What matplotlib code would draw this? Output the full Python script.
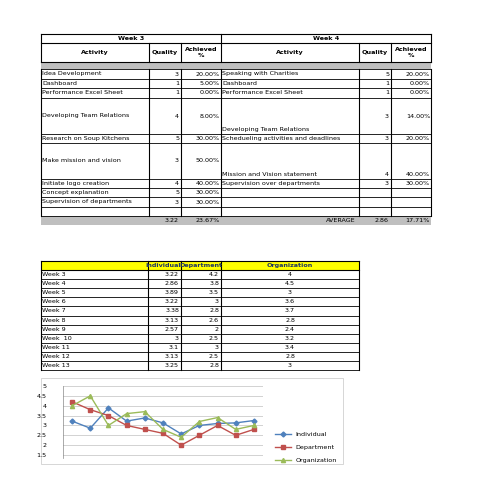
import matplotlib.pyplot as plt
from matplotlib.patches import Rectangle

# week 3 / week 4 activity tables
w3_activity = ["Idea Development", "Dashboard", "Performance Excel Sheet", "Developing Team Relations",
               "Research on Soup Kitchens", "Make mission and vision", "Initiate logo creation",
               "Concept explanation", "Supervision of departments", ""]
w3_quality = ["3", "1", "1", "4", "5", "3", "4", "5", "3", ""]
w3_achieved = ["20.00%", "5.00%", "0.00%", "8.00%", "30.00%", "50.00%", "40.00%", "30.00%", "30.00%", ""]
w4_activity = ["Speaking with Charities", "Dashboard", "Performance Excel Sheet", "Developing Team Relations",
               "Schedueling activities and deadlines", "Mission and Vision statement",
               "Supervision over departments", "", "", ""]
w4_quality = ["5", "1", "1", "3", "3", "4", "3", "", "", ""]
w4_achieved = ["20.00%", "0.00%", "0.00%", "14.00%", "20.00%", "40.00%", "30.00%", "", "", ""]
avg3 = ("3.22", "23.67%")
avg4 = ("2.86", "17.71%")

# summary table
weeks = ["Week 3", "Week 4", "Week 5", "Week 6", "Week 7", "Week 8", "Week 9",
         "Week  10", "Week 11", "Week 12", "Week 13"]
individual = [3.22, 2.86, 3.89, 3.22, 3.38, 3.13, 2.57, 3, 3.1, 3.13, 3.25]
department = [4.2, 3.8, 3.5, 3, 2.8, 2.6, 2, 2.5, 3, 2.5, 2.8]
organization = [4, 4.5, 3, 3.6, 3.7, 2.8, 2.4, 3.2, 3.4, 2.8, 3]

fig = plt.figure(figsize=(4.95, 4.95), dpi=100)
ax = fig.add_axes([0, 0, 1, 1])
ax.set_xlim(0, 495)
ax.set_ylim(495, 0)
ax.axis("off")

FS = 4.6
GRAY = "#bfbfbf"

def hline(y, x0, x1, lw=0.8):
    ax.plot([x0, x1], [y, y], color="black", lw=lw)

def vline(x, y0, y1, lw=0.8):
    ax.plot([x, x], [y0, y1], color="black", lw=lw)

# ---- top table ----
cols = [41, 149, 181, 221, 359, 391, 431]
rows = [69, 79, 88, 98, 134, 143, 179, 188, 197, 207, 216]
ax.add_patch(Rectangle((41, 62), 390, 7, color=GRAY, lw=0))
ax.add_patch(Rectangle((41, 216), 390, 9, color=GRAY, lw=0))
hline(34, 41, 431); hline(43, 41, 431); hline(62, 41, 431)
for y in rows:
    hline(y, 41, 431, 0.6)
for x in cols:
    vline(x, 69, 216)
for x in [41, 221, 431]:
    vline(x, 34, 62)
for x in [149, 181, 359, 391]:
    vline(x, 43, 62)
ax.text(131, 38.5, "Week 3", ha="center", va="center", fontsize=FS, weight="bold")
ax.text(326, 38.5, "Week 4", ha="center", va="center", fontsize=FS, weight="bold")
for x0, x1, lab in [(41, 149, "Activity"), (149, 181, "Quality"), (181, 221, "Achieved\n%"),
                    (221, 359, "Activity"), (359, 391, "Quality"), (391, 431, "Achieved\n%")]:
    ax.text((x0 + x1) / 2, 52.5, lab, ha="center", va="center", fontsize=FS, weight="bold",
            linespacing=1.4)
for i in range(len(w3_activity)):
    y0, y1 = rows[i], rows[i + 1]
    ym = (y0 + y1) / 2
    ax.text(42, ym, w3_activity[i], va="center", fontsize=FS)
    ax.text(179, ym, w3_quality[i], va="center", ha="right", fontsize=FS)
    ax.text(220, ym, w3_achieved[i], va="center", ha="right", fontsize=FS)
    # week 4 text sits at bottom of tall cells
    yb = y1 - 4.5 if y1 - y0 > 15 else ym
    ax.text(222, yb, w4_activity[i], va="center", fontsize=FS)
    ax.text(389, yb if i != 3 else ym, w4_quality[i], va="center", ha="right", fontsize=FS)
    ax.text(430, yb if i != 3 else ym, w4_achieved[i], va="center", ha="right", fontsize=FS)
ax.text(179, 220.5, avg3[0], va="center", ha="right", fontsize=FS)
ax.text(220, 220.5, avg3[1], va="center", ha="right", fontsize=FS)
ax.text(356, 220.5, "AVERAGE", va="center", ha="right", fontsize=FS)
ax.text(389, 220.5, avg4[0], va="center", ha="right", fontsize=FS)
ax.text(430, 220.5, avg4[1], va="center", ha="right", fontsize=FS)

# ---- summary table ----
bcols = [41, 148, 181, 221, 359]
ax.add_patch(Rectangle((41, 261), 318, 9, color="#ffff00", lw=0))
btop, bh = 270, 9.1
hline(261, 41, 359); hline(270, 41, 359)
for i in range(len(weeks)):
    y = btop + (i + 1) * bh
    hline(y, 41, 359, 0.6)
for x in bcols:
    vline(x, 261, btop + len(weeks) * bh)
ax.text(181, 265.5, "Individual", ha="right", va="center", fontsize=FS, weight="bold", color="#1f3864")
ax.text(201, 265.5, "Department", ha="center", va="center", fontsize=FS, weight="bold", color="#1f3864",
        clip_on=True)
ax.text(290, 265.5, "Organization", ha="center", va="center", fontsize=FS, weight="bold", color="#1f3864")
for i, w in enumerate(weeks):
    ym = btop + (i + 0.5) * bh
    ax.text(42, ym, w, va="center", fontsize=FS)
    ax.text(179, ym, f"{individual[i]:g}", va="center", ha="right", fontsize=FS)
    ax.text(219, ym, f"{department[i]:g}", va="center", ha="right", fontsize=FS)
    ax.text(290, ym, f"{organization[i]:g}", va="center", ha="center", fontsize=FS)

# ---- chart frame ----
ax.add_patch(Rectangle((41, 378), 302, 86, fill=False, ec="#d0d0d0", lw=0.6))

# ---- line chart ----
cax = fig.add_axes([63 / 495, 1 - 458 / 495, 200 / 495, 72 / 495])
x = range(len(weeks))
cax.plot(x, individual, color="#4f81bd", marker="D", ms=2.5, lw=1, label="Individual")
cax.plot(x, department, color="#c0504d", marker="s", ms=3, lw=1, label="Department")
cax.plot(x, organization, color="#9bbb59", marker="^", ms=3, lw=1, label="Organization")
cax.set_ylim(1.35, 5)
cax.set_xlim(-0.5, len(weeks) - 0.5)
cax.set_yticks([1.5, 2, 2.5, 3, 3.5, 4, 4.5, 5])
cax.set_yticklabels(["1.5", "2", "2.5", "3", "3.5", "4", "4.5", "5"])
cax.tick_params(axis="y", labelsize=FS, length=0, pad=12)
cax.set_xticks([])
cax.grid(axis="y", color="#c0c0c0", lw=0.5)
for s in ["top", "right", "bottom"]:
    cax.spines[s].set_visible(False)
cax.spines["left"].set_color("#888888")
cax.spines["left"].set_linewidth(0.5)
cax.legend(loc="upper left", bbox_to_anchor=(1.03, 0.45), frameon=False, fontsize=FS,
           handlelength=2.5, labelspacing=1.2)

fig.savefig("out.png", dpi=100)
